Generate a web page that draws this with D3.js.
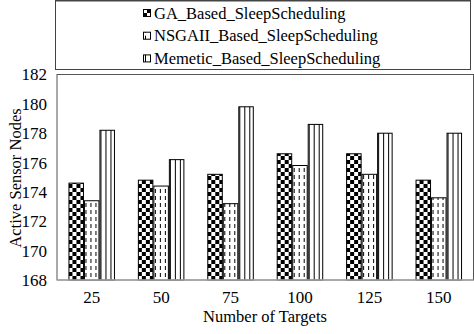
<!DOCTYPE html>
<html>
<head>
<meta charset="utf-8">
<script src="https://cdn.jsdelivr.net/npm/d3@7"></script>
<style>
  body { margin: 0; background: #fff; }
</style>
</head>
<body>
<div id="chart"></div>
<script>
// data
var targets = ["25", "50", "75", "100", "125", "150"];
var seriesNames = ["GA_Based_SleepScheduling", "NSGAII_Based_SleepScheduling", "Memetic_Based_SleepScheduling"];
var gaValues      = [174.6, 174.8, 175.2, 176.6, 176.6, 174.8];
var nsgaValues    = [173.4, 174.4, 173.2, 175.8, 175.2, 173.6];
var memeticValues = [178.2, 176.2, 179.8, 178.6, 178.0, 178.0];
var yTicks = [168, 170, 172, 174, 176, 178, 180, 182];

var width = 474, height = 334;
var plot = {left: 57, right: 473.5, top: 74.5, bottom: 280};
var serif = "Liberation Serif";

var svg = d3.select("#chart").append("svg")
    .attr("width", width)
    .attr("height", height);

// fill patterns
var defs = svg.append("defs");
var checker = defs.append("pattern").attr("id", "pGA")
    .attr("patternUnits", "userSpaceOnUse").attr("width", 8).attr("height", 8);
checker.append("rect").attr("width", 8).attr("height", 8).attr("fill", "#fff");
checker.append("rect").attr("width", 4).attr("height", 4).attr("fill", "#000");
checker.append("rect").attr("x", 4).attr("y", 4).attr("width", 4).attr("height", 4).attr("fill", "#000");

var dash = defs.append("pattern").attr("id", "pNSGA")
    .attr("patternUnits", "userSpaceOnUse").attr("width", 5).attr("height", 7);
dash.append("rect").attr("width", 5).attr("height", 7).attr("fill", "#fff");
dash.append("line").attr("x1", 2.5).attr("x2", 2.5).attr("y1", 0).attr("y2", 4)
    .attr("stroke", "#000").attr("stroke-width", 1);

var vline = defs.append("pattern").attr("id", "pMem")
    .attr("patternUnits", "userSpaceOnUse").attr("width", 5).attr("height", 5);
vline.append("rect").attr("width", 5).attr("height", 5).attr("fill", "#fff");
vline.append("line").attr("x1", 2.5).attr("x2", 2.5).attr("y1", 0).attr("y2", 5)
    .attr("stroke", "#000").attr("stroke-width", 1);

var fills = ["url(#pGA)", "url(#pNSGA)", "url(#pMem)"];

//scales
var x0 = d3.scaleBand().domain(targets).range([plot.left, plot.right]).paddingInner(0.33).paddingOuter(0.165);
var x1 = d3.scaleBand().domain([0, 1, 2]).range([0, x0.bandwidth()]);
var y = d3.scaleLinear().domain([168, 182]).range([plot.bottom, plot.top]);

// plot frame
svg.append("rect")
    .attr("x", plot.left).attr("y", plot.top)
    .attr("width", plot.right - plot.left).attr("height", plot.bottom - plot.top)
    .attr("fill", "none").attr("stroke", "#555").attr("stroke-width", 1);

var rows = targets.map(function(t, i) {
  return {target: t, vals: [gaValues[i], nsgaValues[i], memeticValues[i]]};
});

var groups = svg.selectAll("g.grp")
    .data(rows).enter()
    .append("g")
    .attr("class", "grp")
    .attr("transform", function(d) { return "translate(" + x0(d.target) + ",0)"; });

groups.selectAll("rect")
    .data(function(d) { return d.vals.map(function(v, k) { return {k: k, v: v}; }); })
    .enter().append("rect")
    .attr("x", function(d) { return x1(d.k) + 0.5; })
    .attr("y", function(d) { return y(d.v); })
    .attr("width", x1.bandwidth() - 1)
    .attr("height", function(d) { return y(168) - y(d.v); })
    .attr("fill", function(d) { return fills[d.k]; })
    .attr("stroke", "#000")
    .attr("stroke-width", 1);

// bottom axis line
svg.append("line")
    .attr("x1", plot.left).attr("x2", plot.right)
    .attr("y1", plot.bottom).attr("y2", plot.bottom)
    .attr("stroke", "#aaa").attr("stroke-width", 1.5);

// y axis labels
var yAxis = d3.axisLeft(y).tickValues(yTicks).tickSize(0).tickPadding(10);
var gy = svg.append("g").attr("transform", "translate(" + plot.left + ",0)").call(yAxis);
gy.select(".domain").remove();
gy.selectAll("text").style("font-family", serif).style("font-size", "17px").attr("fill", "#000");

// x axis labels
var xAxis = d3.axisBottom(x0).tickSize(0).tickPadding(11);
var gx = svg.append("g").attr("transform", "translate(0," + plot.bottom + ")").call(xAxis);
gx.select(".domain").remove();
gx.selectAll("text").style("font-family", serif).style("font-size", "17px").attr("fill", "#000");

// axis titles
svg.append("text")
    .attr("x", 265).attr("y", 322)
    .attr("text-anchor", "middle")
    .style("font-family", serif)
    .style("font-size", "16.5px")
    .text("Number of Targets");

svg.append("text")
    .attr("transform", "translate(21,178) rotate(-90)")
    .attr("text-anchor", "middle")
    .style("font-family", serif)
    .style("font-size", "16.5px")
    .text("Active Sensor Nodes");

// legend
var legend = svg.append("g");
legend.append("rect")
    .attr("x", 55.5).attr("y", 0.5).attr("width", 415).attr("height", 69)
    .attr("fill", "#fff").attr("stroke", "#444").attr("stroke-width", 1);
legend.append("line")
    .attr("x1", 55).attr("x2", 471).attr("y1", 0.5).attr("y2", 0.5)
    .attr("stroke", "#444").attr("stroke-width", 2);

var items = legend.selectAll("g.item")
    .data(seriesNames).enter()
    .append("g").attr("class", "item")
    .attr("transform", function(d, i) { return "translate(143," + (13 + i * 22.7) + ")"; });

items.append("rect")
    .attr("x", 0.5).attr("y", -3.5).attr("width", 7).attr("height", 7)
    .attr("fill", function(d, i) { return fills[i]; })
    .attr("stroke", "#000").attr("stroke-width", 1);

items.append("text")
    .attr("x", 11).attr("y", 5.5)
    .style("font-family", serif)
    .style("font-size", "16.5px")
    .text(function(d) { return d; });
</script>
</body>
</html>
